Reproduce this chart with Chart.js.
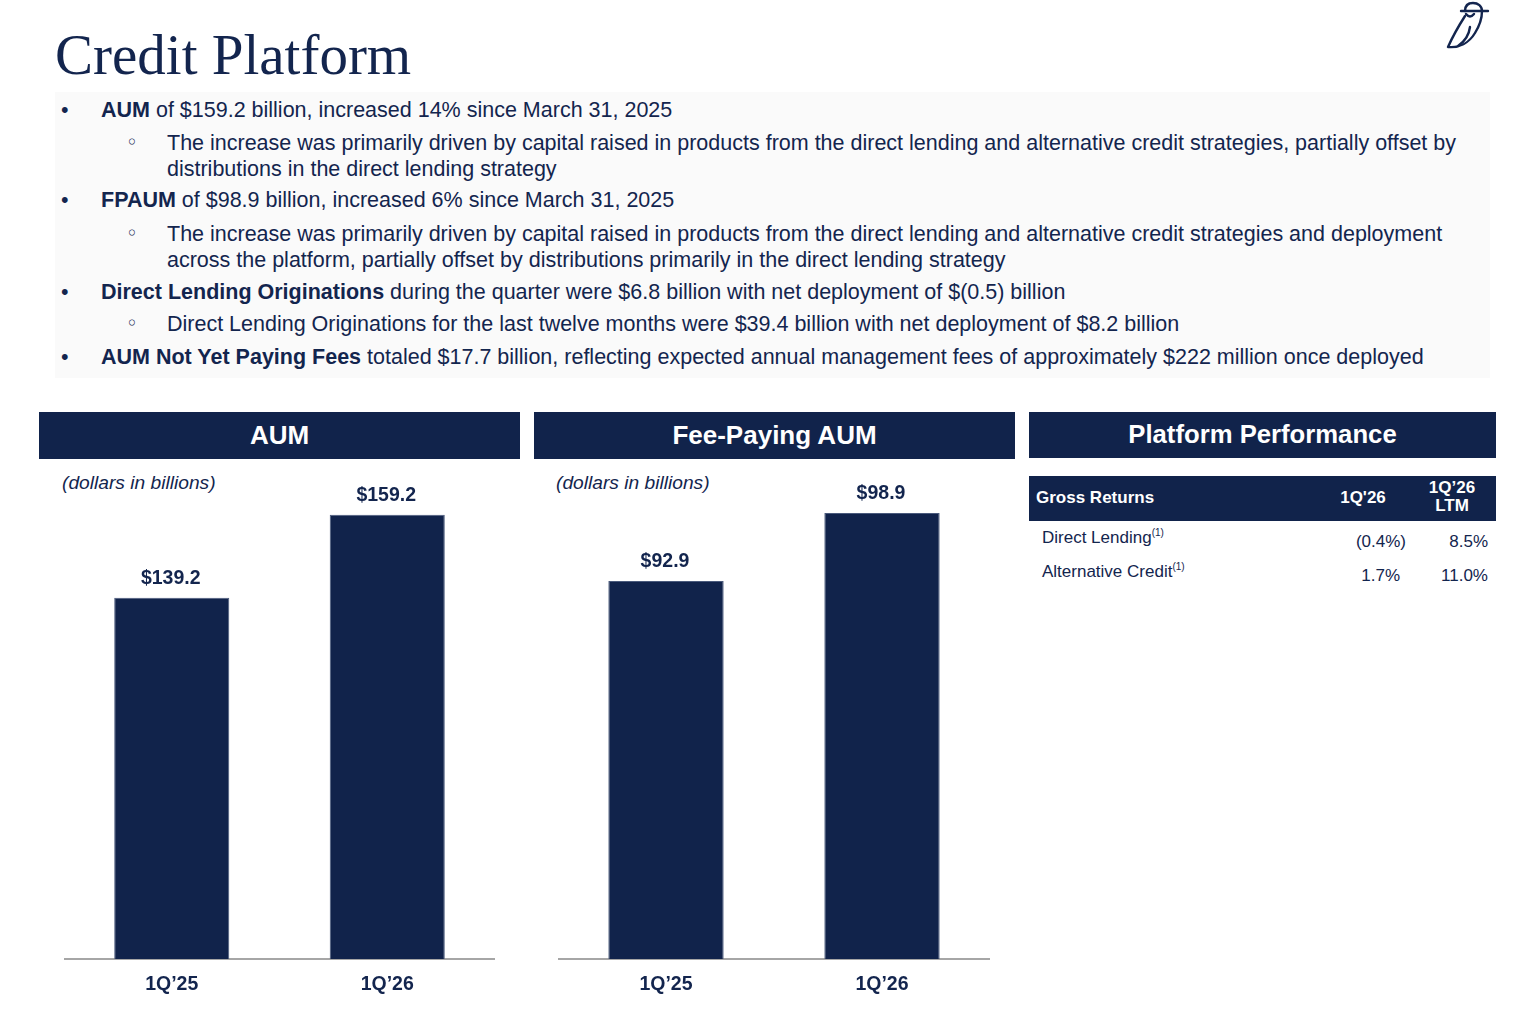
<!DOCTYPE html>
<html>
<head>
<meta charset="utf-8">
<script src="https://cdn.jsdelivr.net/npm/chart.js@4.4.1/dist/chart.umd.min.js"></script>
<style>
  html, body { margin: 0; padding: 0; background: #ffffff; }
  body { width: 1528px; height: 1018px; position: relative; overflow: hidden; font-family: "Liberation Sans", Arial, sans-serif; color: #13254e; }
  .abs { position: absolute; white-space: nowrap; }
  .title { left: 55px; top: 22px; font-family: "Liberation Serif", "DejaVu Serif", serif; font-size: 57px; line-height: 66px; color: #13254e; }
  .box { left: 55px; top: 92px; width: 1435px; height: 286px; background: #fafafa; }
  .line { font-size: 21.5px; line-height: 26px; }
  .b { font-weight: bold; }
  .hdr { background: #11234b; color: #fff; font-weight: bold; text-align: center; }
  .note { font-style: italic; font-size: 19.2px; line-height: 22px; }
  .cell { font-size: 17px; line-height: 20px; }
  sup { font-size: 10px; vertical-align: 7px; line-height: 0; }
  .chartbox { position: absolute; }
</style>
</head>
<body>
<div class="abs title">Credit Platform</div>
<svg class="abs" style="left:1440px;top:0px" width="60" height="56" viewBox="1440 0 60 56">
  <g fill="none" stroke="#13254e" stroke-width="2.4" stroke-linecap="round" stroke-linejoin="round">
    <path d="M1461,11 L1488,11"/>
    <path d="M1465,11 C1465,5 1469,3 1473,3 C1478,3 1482,6 1482,11"/>
    <path d="M1466,14 Q1470,19 1474,14"/>
    <path d="M1465,16 C1458,27 1452,38 1448,47 C1459,48 1469,43 1475,33 C1480,25 1482,18 1482,11"/>
    <path d="M1470,27 C1469,35 1464,42 1458,46"/>
  </g>
</svg>

<div class="abs box"></div>
<div id="bullets"></div>

<div class="abs hdr" style="left:39px;top:412px;width:481px;height:47px;line-height:47px;font-size:26px;">AUM</div>
<div class="abs hdr" style="left:534px;top:412px;width:481px;height:47px;line-height:47px;font-size:26px;">Fee-Paying AUM</div>
<div class="abs hdr" style="left:1029px;top:412px;width:467px;height:46px;line-height:44px;font-size:25.7px;">Platform Performance</div>

<div class="abs note" style="left:62px;top:472px;">(dollars in billions)</div>
<div class="abs note" style="left:556px;top:472px;">(dollars in billions)</div>

<div class="chartbox" style="left:64px;top:465px;width:431px;height:545px;"><canvas id="aumChart"></canvas></div>
<div class="chartbox" style="left:558px;top:465px;width:432px;height:545px;"><canvas id="fpChart"></canvas></div>

<div class="abs" style="left:1029px;top:476px;width:467px;height:45px;background:#11234b;"></div>
<div id="table"></div>

<script>
// ---------- Data ----------
const categories = ["1Q\u201925", "1Q\u201926"];
const aumValues = [139.2, 159.2];
const fpaumValues = [92.9, 98.9];
const valueLabelsAum = ["$139.2", "$159.2"];
const valueLabelsFp = ["$92.9", "$98.9"];

const tableColumns = ["Gross Returns", "1Q'26", "1Q\u201926|LTM"];
const tableRowNames = ["Direct Lending", "Alternative Credit"];
const tableQuarter = ["(0.4%)", "1.7%"];
const tableLtm = ["8.5%", "11.0%"];

const bulletLines = [
  { lvl: 0, bold: "AUM", text: " of $159.2 billion, increased 14% since March 31, 2025" },
  { lvl: 1, text: "The increase was primarily driven by capital raised in products from the direct lending and alternative credit strategies, partially offset by" },
  { lvl: 2, text: "distributions in the direct lending strategy" },
  { lvl: 0, bold: "FPAUM", text: " of $98.9 billion, increased 6% since March 31, 2025" },
  { lvl: 1, text: "The increase was primarily driven by capital raised in products from the direct lending and alternative credit strategies and deployment" },
  { lvl: 2, text: "across the platform, partially offset by distributions primarily in the direct lending strategy" },
  { lvl: 0, bold: "Direct Lending Originations", text: " during the quarter were $6.8 billion with net deployment of $(0.5) billion" },
  { lvl: 1, text: "Direct Lending Originations for the last twelve months were $39.4 billion with net deployment of $8.2 billion" },
  { lvl: 0, bold: "AUM Not Yet Paying Fees", text: " totaled $17.7 billion, reflecting expected annual management fees of approximately $222 million once deployed" }
];
const bulletCenters = [110, 143, 169, 200, 234, 260, 292, 324, 357];

// ---------- Bullets ----------
const bulletsEl = document.getElementById('bullets');
bulletLines.forEach((l, i) => {
  const top = bulletCenters[i] - 13;
  if (l.lvl === 0) {
    const d = document.createElement('div');
    d.className = 'abs line'; d.style.left = '61px'; d.style.top = top + 'px';
    d.textContent = '\u2022'; bulletsEl.appendChild(d);
  } else if (l.lvl === 1) {
    const d = document.createElement('div');
    d.className = 'abs line'; d.style.left = '126px'; d.style.top = (top - 1) + 'px';
    d.style.fontSize = '20px';
    d.style.fontFamily = '"DejaVu Sans", sans-serif';
    d.textContent = '\u25E6'; bulletsEl.appendChild(d);
  }
  const t = document.createElement('div');
  t.className = 'abs line';
  t.style.left = (l.lvl === 0 ? 101 : 167) + 'px';
  t.style.top = top + 'px';
  if (l.bold) {
    const b = document.createElement('span'); b.className = 'b'; b.textContent = l.bold; t.appendChild(b);
  }
  t.appendChild(document.createTextNode(l.text));
  bulletsEl.appendChild(t);
});

// ---------- Table ----------
const tableEl = document.getElementById('table');
function addCell(html, style) {
  const d = document.createElement('div');
  d.className = 'abs cell';
  d.innerHTML = html;
  Object.assign(d.style, style);
  tableEl.appendChild(d);
  return d;
}
addCell(tableColumns[0], { left: '1036px', top: '488px', color: '#fff', fontWeight: 'bold' });
addCell(tableColumns[1], { left: '1323px', width: '80px', textAlign: 'center', top: '488px', color: '#fff', fontWeight: 'bold' });
const ltmParts = tableColumns[2].split('|');
addCell(ltmParts[0] + '<br>' + ltmParts[1], { left: '1412px', width: '80px', textAlign: 'center', top: '479px', lineHeight: '18px', color: '#fff', fontWeight: 'bold' });
const rowCenters = [538, 572];
tableRowNames.forEach((name, i) => {
  addCell(name + '<sup>(1)</sup>', { left: '1042px', top: (rowCenters[i] - 10) + 'px' });
  addCell(tableQuarter[i], { left: (i === 0 ? 1306 : 1300) + 'px', width: '100px', textAlign: 'right', top: (rowCenters[i] - 6) + 'px' });
  addCell(tableLtm[i], { left: '1388px', width: '100px', textAlign: 'right', top: (rowCenters[i] - 6) + 'px' });
});

// ---------- Charts ----------
const NAVY = '#11234b';
const valueLabelPlugin = {
  id: 'valueLabels',
  afterDatasetsDraw(chart, args, opts) {
    const ctx = chart.ctx;
    const meta = chart.getDatasetMeta(0);
    ctx.save();
    ctx.font = 'bold 19.5px "Liberation Sans", Arial, sans-serif';
    ctx.fillStyle = '#13254e';
    ctx.textAlign = 'center';
    ctx.textBaseline = 'middle';
    meta.data.forEach((bar, i) => {
      ctx.fillText(opts.labels[i], bar.x - 1, bar.y - 19);
    });
    ctx.restore();
  }
};

function makeChart(id, values, labels, yMin, yMax) {
  return new Chart(document.getElementById(id), {
    type: 'bar',
    data: {
      labels: categories,
      datasets: [{
        data: values,
        backgroundColor: NAVY,
        borderColor: '#4a5a7c',
        borderWidth: 1,
        categoryPercentage: 1.0,
        barPercentage: 0.534
      }]
    },
    options: {
      responsive: true,
      maintainAspectRatio: false,
      animation: false,
      layout: { padding: 0 },
      plugins: {
        legend: { display: false },
        tooltip: { enabled: false },
        valueLabels: { labels: labels }
      },
      scales: {
        y: { display: false, min: yMin, max: yMax },
        x: {
          grid: { display: false, drawTicks: false },
          border: { display: true, color: '#a6a6a6', width: 2 },
          ticks: {
            color: '#13254e',
            padding: 14,
            font: { family: '"Liberation Sans", Arial, sans-serif', size: 19.5, weight: 'bold' }
          },
          afterFit(scale) { scale.height = 51; }
        }
      }
    },
    plugins: [valueLabelPlugin]
  });
}

makeChart('aumChart', aumValues, valueLabelsAum, 52.2, 171.2);
makeChart('fpChart', fpaumValues, valueLabelsFp, 59.55, 103.14);
</script>
</body>
</html>
